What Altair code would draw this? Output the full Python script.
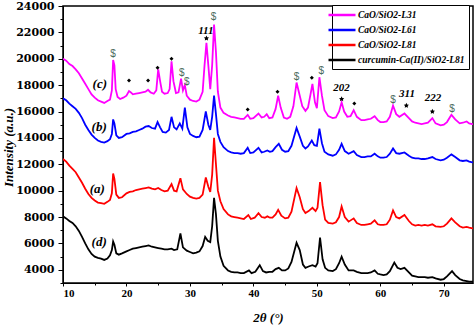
import altair as alt
import pandas as pd

# ---- diffraction patterns (2-theta in degrees, intensity in a.u.) ----
series_names = ["CaO/SiO2-L31", "CaO/SiO2-L61", "CaO/SiO2-L81", "curcumin-Ca(II)/SiO2-L81"]
series_colors = ["#FF00FF", "#0000FF", "#FF0000", "#000000"]

c_theta = [10.0, 10.5, 11.0, 11.5, 12.0, 12.5, 13.0, 13.5, 14.0, 14.5, 15.0, 15.5, 16.0, 16.5, 17.0, 17.4, 17.7, 17.9, 18.1, 18.3,
           18.6, 19.0, 19.5, 20.0, 20.4, 20.7, 21.0, 21.5, 22.0, 22.5, 23.0, 23.4, 23.8, 24.3, 24.7, 25.0, 25.3, 25.6, 26.0, 26.5,
           26.8, 27.1, 27.4, 27.8, 28.2, 28.6, 28.9, 29.2, 29.5, 30.0, 30.5, 31.0, 31.5, 32.0, 32.3, 32.6, 32.9, 33.2, 33.5, 33.8,
           34.1, 34.4, 34.8, 35.3, 36.0, 36.5, 37.0, 37.5, 38.0, 38.5, 39.1, 39.5, 40.0, 40.8, 41.3, 41.7, 42.1, 42.5, 43.0, 43.5,
           43.9, 44.3, 44.8, 45.3, 45.8, 46.3, 46.8, 47.2, 47.7, 48.2, 48.6, 49.0, 49.3, 49.7, 50.0, 50.4, 50.8, 51.2, 51.8, 52.5,
           53.0, 53.5, 53.9, 54.3, 54.8, 55.3, 55.8, 56.3, 57.0, 57.5, 58.0, 58.5, 59.1, 59.6, 60.0, 60.5, 61.0, 61.5, 62.0, 62.5,
           63.0, 63.8, 64.5, 65.0, 65.5, 66.0, 66.5, 67.0, 67.5, 68.2, 68.7, 69.5, 70.0, 70.5, 71.2, 71.8, 72.5, 73.0, 73.6, 74.0,
           74.5, 75.0]
c_int = [20000, 19850, 19600, 19450, 19200, 18900, 18500, 18100, 17700, 17300, 17050, 16850, 16750, 16650, 16800, 16900, 17600, 19900, 19500, 17700,
         17100, 16950, 17050, 17200, 17550, 17450, 17300, 17350, 17400, 17450, 17500, 17650, 17450, 17350, 17600, 19200, 18300, 17500, 17350, 17400,
         17700, 19800, 18300, 17400, 17450, 18500, 17600, 18000, 17200, 16900, 16800, 16750, 16900, 17500, 19500, 21200, 19500, 17700, 19500, 22600,
         20500, 17500, 16300, 15900, 15700, 15600, 15550, 15500, 15450, 15450, 15750, 15450, 15500, 15850, 15550, 15600, 15800, 15500, 15550, 16200,
         17200, 16300, 15550, 15450, 15600, 16400, 18200, 17400, 16400, 16050, 16300, 17300, 18100, 16700, 16250, 18600, 17200, 16100, 15650, 15500,
         15550, 16000, 16700, 16000, 15600, 15650, 16100, 15600, 15350, 15350, 15400, 15450, 15650, 15350, 15200, 15200, 15250, 15600, 16450, 15800,
         15600, 15850, 15500, 15250, 15150, 15100, 15050, 15100, 15150, 15500, 15100, 14950, 15000, 15200, 15750, 15400, 15100, 15150, 15250, 15100,
         15050, 15000]

b_theta = [10.0, 10.5, 11.0, 11.5, 12.0, 12.5, 13.0, 13.5, 14.0, 14.5, 15.0, 15.5, 16.0, 16.5, 17.0, 17.4, 17.7, 17.9, 18.1, 18.4,
           18.8, 19.3, 20.0, 20.5, 21.0, 21.5, 22.0, 22.5, 23.0, 23.5, 24.0, 24.5, 24.9, 25.3, 25.7, 26.2, 26.7, 27.1, 27.5, 27.9,
           28.4, 28.8, 29.2, 29.6, 30.0, 30.5, 31.0, 31.5, 32.0, 32.5, 32.9, 33.2, 33.5, 33.8, 34.1, 34.4, 34.8, 35.3, 36.0, 36.5,
           37.0, 37.5, 38.0, 38.5, 39.1, 39.5, 40.0, 40.8, 41.3, 41.7, 42.2, 42.6, 43.0, 43.5, 44.0, 44.5, 45.0, 45.5, 46.0, 46.8,
           47.3, 47.8, 48.2, 48.6, 49.2, 49.6, 50.0, 50.4, 50.8, 51.2, 51.8, 52.5, 53.0, 53.5, 53.9, 54.4, 55.0, 55.8, 56.3, 57.0,
           57.5, 58.0, 58.5, 59.1, 59.6, 60.0, 60.5, 61.0, 61.5, 62.0, 62.5, 63.0, 63.8, 64.5, 65.0, 65.5, 66.0, 66.5, 67.0, 67.5,
           68.2, 68.7, 69.5, 70.0, 70.5, 71.2, 71.8, 72.5, 73.0, 73.6, 74.0, 74.5, 75.0]
b_int = [17000, 16850, 16600, 16400, 16200, 15900, 15500, 15000, 14600, 14250, 14000, 13800, 13700, 13650, 13750, 13900, 14300, 15400, 15100, 14200,
         14000, 14050, 14300, 14350, 14450, 14500, 14600, 14700, 14850, 14900, 14750, 14700, 15200, 14800, 14450, 14400, 14600, 15600, 14800, 14650,
         15100, 14700, 16300, 14800, 14300, 14150, 14050, 14100, 14600, 16000, 15000, 14600, 15600, 17200, 15800, 14300, 13700, 13300, 13000, 12900,
         12850, 12850, 12800, 12850, 13250, 12850, 12900, 13250, 12900, 12950, 13050, 12950, 13000, 13300, 13550, 13100, 12950, 13000, 13400, 14750,
         14100, 13400, 13200, 13350, 13800, 13450, 13400, 14700, 13600, 12950, 12750, 12650, 12750, 13100, 13550, 13000, 12800, 13000, 12700, 12550,
         12550, 12600, 12600, 12800, 12600, 12500, 12500, 12550, 12800, 13200, 12850, 12800, 12900, 12650, 12500, 12450, 12450, 12400, 12400, 12450,
         12550, 12400, 12300, 12350, 12500, 12750, 12550, 12300, 12250, 12300, 12200, 12150, 12150]

a_theta = [10.0, 10.5, 11.0, 11.5, 12.0, 12.5, 13.0, 13.5, 14.0, 14.5, 15.0, 15.5, 16.0, 16.5, 17.0, 17.4, 17.7, 17.9, 18.1, 18.4,
           18.8, 19.3, 20.0, 20.5, 21.0, 21.5, 22.0, 22.5, 23.0, 23.5, 24.0, 24.5, 25.0, 25.5, 26.0, 26.5, 27.1, 27.5, 27.9, 28.5,
           28.9, 29.5, 30.0, 30.5, 31.0, 31.5, 32.0, 32.5, 32.9, 33.2, 33.5, 33.8, 34.1, 34.4, 34.8, 35.3, 36.0, 36.5, 37.0, 37.5,
           38.0, 38.5, 39.2, 39.6, 40.2, 40.8, 41.3, 41.8, 42.2, 42.6, 43.0, 43.5, 43.9, 44.4, 45.0, 45.5, 46.0, 46.8, 47.3, 47.8,
           48.2, 48.7, 49.3, 49.8, 50.1, 50.5, 50.9, 51.3, 51.8, 52.5, 53.0, 53.5, 53.9, 54.4, 55.0, 55.8, 56.3, 57.0, 57.5, 58.0,
           58.5, 59.1, 59.6, 60.0, 60.5, 61.0, 61.5, 62.0, 62.5, 63.0, 63.8, 64.5, 65.0, 65.5, 66.0, 66.5, 67.0, 67.5, 68.2, 68.7,
           69.5, 70.0, 70.5, 71.2, 71.8, 72.5, 73.0, 73.6, 74.0, 74.5, 75.0]
a_int = [12400, 12200, 11900, 11650, 11400, 11000, 10600, 10150, 9750, 9450, 9250, 9100, 9050, 9000, 9150, 9300, 9800, 11300, 10900, 9700,
         9450, 9500, 9800, 9900, 9950, 10050, 10100, 10150, 10200, 10250, 10150, 10100, 10200, 10050, 9950, 10000, 10500, 10000, 9950, 10950,
         10100, 9750, 9550, 9450, 9400, 9450, 9700, 11000, 10300, 9900, 11200, 14000, 12000, 10000, 9200, 8600, 8200, 8050, 8000, 7950,
         7900, 7850, 8150, 7850, 7950, 8300, 8000, 7950, 8050, 7950, 7950, 8200, 8550, 8100, 7900, 7950, 8400, 10200, 9500, 8600,
         8300, 8450, 8700, 8450, 8700, 10650, 8900, 7800, 7550, 7500, 7600, 8000, 8800, 8000, 7650, 7900, 7550, 7400, 7400, 7450,
         7500, 7750, 7450, 7400, 7400, 7450, 7800, 8500, 8000, 7900, 8150, 7700, 7450, 7350, 7400, 7350, 7400, 7350, 7450, 7300,
         7250, 7300, 7500, 7900, 7600, 7300, 7200, 7250, 7200, 7150, 7150]

d_theta = [10.0, 10.5, 11.0, 11.5, 12.0, 12.5, 13.0, 13.5, 14.0, 14.5, 15.0, 15.5, 16.0, 16.5, 17.0, 17.4, 17.7, 17.9, 18.1, 18.4,
           18.8, 19.3, 20.0, 20.5, 21.0, 21.5, 22.0, 22.5, 23.0, 23.5, 24.0, 24.5, 25.0, 25.5, 26.0, 26.5, 27.1, 27.5, 28.0, 28.5,
           28.9, 29.5, 30.0, 30.5, 31.0, 31.5, 32.0, 32.4, 32.8, 33.2, 33.5, 33.8, 34.1, 34.4, 34.8, 35.3, 36.0, 36.5, 37.0, 37.5,
           38.0, 38.5, 39.3, 39.7, 40.3, 41.0, 41.5, 42.0, 42.5, 43.0, 43.5, 44.0, 44.5, 45.0, 45.5, 46.0, 46.8, 47.3, 47.8, 48.2,
           48.7, 49.3, 49.8, 50.1, 50.5, 50.9, 51.3, 51.8, 52.5, 53.0, 53.5, 53.9, 54.4, 55.0, 55.8, 56.3, 57.0, 57.5, 58.0, 58.5,
           59.1, 59.6, 60.0, 60.5, 61.0, 61.5, 62.2, 62.7, 63.2, 63.8, 64.5, 65.0, 65.5, 66.0, 66.5, 67.0, 67.5, 68.2, 68.7, 69.5,
           70.0, 70.5, 71.3, 71.8, 72.5, 73.0, 73.6, 74.0, 74.5, 75.0]
d_int = [8050, 7900, 7700, 7550, 7300, 6950, 6500, 6000, 5550, 5200, 5000, 4900, 4850, 4750, 4850, 5100, 5500, 6150, 5900, 5250,
         5150, 5250, 5400, 5500, 5600, 5650, 5700, 5750, 5800, 5850, 5750, 5700, 5650, 5600, 5550, 5550, 5600, 5500, 5550, 6750,
         5700, 5450, 5350, 5250, 5300, 5400, 5800, 6500, 6200, 6100, 7300, 9450, 8200, 6200, 5000, 4300, 3950, 3850, 3800, 3800,
         3750, 3750, 3950, 3750, 3850, 4350, 3900, 3800, 3850, 3850, 4050, 4150, 3950, 3950, 4100, 4600, 6050, 5500, 4400, 4150,
         4250, 4350, 4250, 4500, 6450, 4800, 4150, 3950, 3900, 4050, 4500, 5000, 4400, 3950, 3950, 3850, 3750, 3750, 3750, 3800,
         3950, 3700, 3650, 3600, 3650, 3900, 4550, 4150, 4050, 4150, 3800, 3550, 3500, 3450, 3450, 3450, 3400, 3450, 3350, 3250,
         3300, 3500, 3900, 3600, 3300, 3200, 3150, 3100, 3100, 3100]

# ---- sample tags beside each curve ----
tag_text = ["(c)", "(b)", "(a)", "(d)"]
tag_theta = [15.8, 15.7, 15.4, 15.7]
tag_int = [18100, 14850, 10100, 6100]

# ---- phase markers above the peaks ----
dollar_theta = [17.9, 28.7, 29.5, 33.7, 46.8, 50.7, 62.0, 71.3]
dollar_int = [20370, 18940, 18260, 23170, 18640, 19090, 16900, 16220]
diamond_theta = [20.4, 23.4, 24.9, 27.1, 39.1, 43.8, 49.2, 55.9]
diamond_int = [18350, 18350, 19320, 20000, 16150, 17500, 18560, 16600]
star_theta = [32.6, 53.9, 64.1, 68.2]
star_int = [21550, 16950, 16450, 16000]
hkl_text = ["111", "202", "311", "222"]
hkl_theta = [32.5, 53.9, 64.2, 68.3]
hkl_int = [22100, 17800, 17300, 17000]

y_major = list(range(4000, 24001, 2000))
y_minor = list(range(3000, 24001, 2000))
x_major = list(range(10, 71, 10))
x_minor = list(range(15, 75, 10))

X_DOMAIN = [10, 74.6]
Y_DOMAIN = [3000, 24000]
SERIF = "Liberation Serif"

frames = []
for name, th, it in zip(series_names,
                        [c_theta, b_theta, a_theta, d_theta],
                        [c_int, b_int, a_int, d_int]):
    frames.append(pd.DataFrame({"theta": th, "intensity": it, "sample": name}))
patterns = pd.concat(frames, ignore_index=True)

tags = pd.DataFrame({"theta": tag_theta, "intensity": tag_int, "label": tag_text})
dollars = pd.DataFrame({"theta": dollar_theta, "intensity": dollar_int})
diamonds = pd.DataFrame({"theta": diamond_theta, "intensity": diamond_int})
stars = pd.DataFrame({"theta": star_theta, "intensity": star_int})
hkls = pd.DataFrame({"theta": hkl_theta, "intensity": hkl_int, "label": hkl_text})

x_scale = alt.Scale(domain=X_DOMAIN, nice=False, zero=False)
y_scale = alt.Scale(domain=Y_DOMAIN, nice=False, zero=False)

x_main_axis = alt.Axis(values=x_major, tickSize=3, labelPadding=1, grid=False, format="d",
                       labelFont=SERIF, labelFontWeight="bold", labelFontSize=11,
                       labelColor="black", tickColor="black", domainColor="black",
                       title="2θ (°)", titleFont=SERIF, titleFontStyle="italic",
                       titleFontWeight="bold", titleFontSize=13, titleX=205, titleY=34,
                       titleBaseline="middle", titleAlign="center", orient="bottom")
y_main_axis = alt.Axis(values=y_major, tickSize=5, labelPadding=4, grid=False, format="d",
                       labelFont="DejaVu Serif", labelFontWeight="bold", labelFontSize=11,
                       labelColor="black", tickColor="black", domainColor="black",
                       title="Intensity (a.u.)", titleFont=SERIF, titleFontStyle="italic",
                       titleFontWeight="bold", titleFontSize=13, titleX=-55, titleY=141,
                       titleAngle=270, titleBaseline="middle", titleAlign="center",
                       orient="left")
x_minor_axis = alt.Axis(values=x_minor, tickSize=2, labels=False, domain=False, grid=False,
                        title=None, tickColor="black", orient="bottom")
y_minor_axis = alt.Axis(values=y_minor, tickSize=3, labels=False, domain=False, grid=False,
                        title=None, tickColor="black", orient="left")

legend = alt.Legend(orient="none", legendX=269, legendY=-1, title=None,
                    symbolType="M-3,0H3", symbolSize=81, symbolStrokeWidth=2.5,
                    labelFont=SERIF, labelFontStyle="italic", labelFontWeight="bold",
                    labelFontSize=9.5, labelColor="black", labelOffset=10,
                    strokeColor="black", fillColor="white", padding=4, rowPadding=4)

lines = alt.Chart(patterns).mark_line(strokeWidth=1.8, clip=True).encode(
    x=alt.X("theta:Q", scale=x_scale, axis=x_main_axis),
    y=alt.Y("intensity:Q", scale=y_scale, axis=y_main_axis),
    color=alt.Color("sample:N", sort=series_names,
                    scale=alt.Scale(domain=series_names, range=series_colors),
                    legend=legend),
)

tag_layer = alt.Chart(tags).mark_text(font=SERIF, fontStyle="italic", fontWeight="bold",
                                      fontSize=13, color="black").encode(
    x=alt.X("theta:Q", scale=x_scale, axis=x_minor_axis),
    y=alt.Y("intensity:Q", scale=y_scale, axis=y_minor_axis),
    text="label:N",
)

dollar_layer = alt.Chart(dollars).mark_text(text="$", font="Liberation Sans", fontSize=10,
                                            color="#4b6b5c").encode(
    x=alt.X("theta:Q", scale=x_scale, axis=None),
    y=alt.Y("intensity:Q", scale=y_scale, axis=None),
)

diamond_layer = alt.Chart(diamonds).mark_point(shape="diamond", filled=True, size=16,
                                               color="black", opacity=1).encode(
    x=alt.X("theta:Q", scale=x_scale, axis=None),
    y=alt.Y("intensity:Q", scale=y_scale, axis=None),
)

star_path = ("M0,-1L0.29,-0.4L0.95,-0.31L0.48,0.15L0.59,0.81L0,0.5"
             "L-0.59,0.81L-0.48,0.15L-0.95,-0.31L-0.29,-0.4Z")
star_layer = alt.Chart(stars).mark_point(shape=star_path, filled=True, size=30,
                                         color="black", opacity=1).encode(
    x=alt.X("theta:Q", scale=x_scale, axis=None),
    y=alt.Y("intensity:Q", scale=y_scale, axis=None),
)

hkl_layer = alt.Chart(hkls).mark_text(font=SERIF, fontStyle="italic", fontWeight="bold",
                                      fontSize=11, color="black").encode(
    x=alt.X("theta:Q", scale=x_scale, axis=None),
    y=alt.Y("intensity:Q", scale=y_scale, axis=None),
    text="label:N",
)

chart = alt.layer(
    lines, tag_layer, dollar_layer, diamond_layer, star_layer, hkl_layer
).resolve_axis(
    x="independent", y="independent"
).properties(
    width=410, height=277,
    autosize=alt.AutoSizeParams(type="none"),
    padding={"left": 63, "top": 6, "right": 1, "bottom": 42},
    background="white",
).configure_view(
    stroke="black", strokeWidth=1.5
)

chart.save("out.html", embed_options={"renderer": "svg", "actions": False})
